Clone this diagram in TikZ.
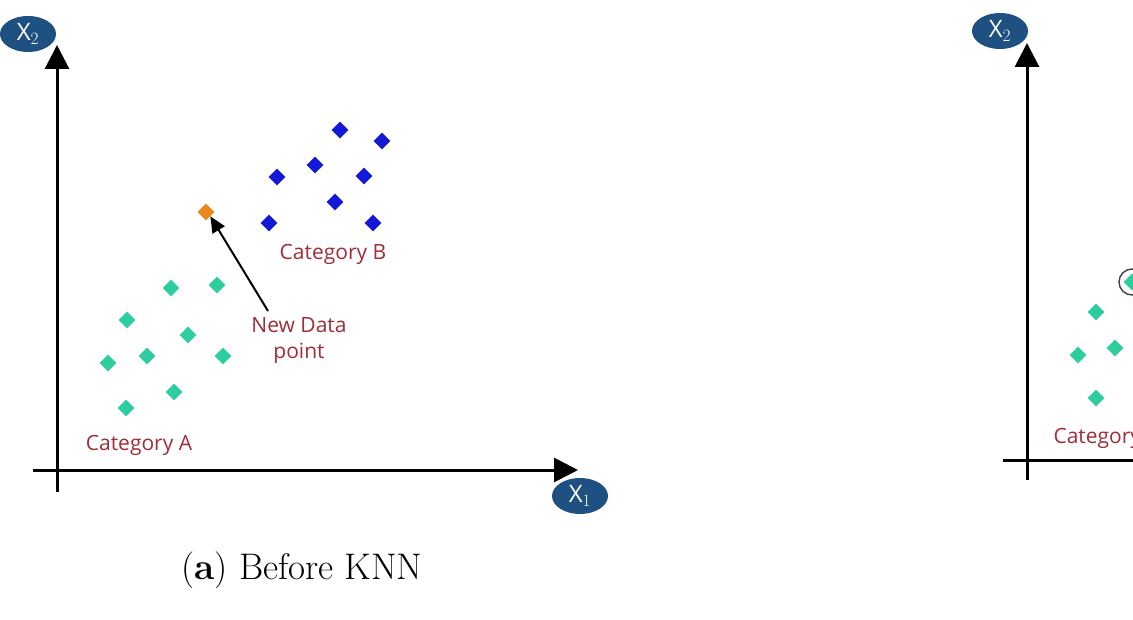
\documentclass[tikz,border=0pt]{standalone}
\usepackage{fontspec}
\newfontfamily\lblfont{Open Sans}
\usetikzlibrary{arrows.meta,shapes.geometric}
\definecolor{teal1}{RGB}{45,205,160}
\definecolor{blue1}{RGB}{20,25,215}
\definecolor{orng}{RGB}{235,135,25}
\definecolor{lblred}{RGB}{160,45,55}
\definecolor{axblue}{RGB}{30,80,130}
\begin{document}
\begin{tikzpicture}[x=1pt,y=-1pt,
  dia/.style={diamond,minimum width=17pt,minimum height=17pt,inner sep=0pt,fill=#1},
  ax/.style={line width=3pt,-{Triangle[length=24pt,width=24pt]}},
  axlbl/.style={ellipse,fill=axblue,text=white,minimum width=56pt,minimum height=36pt,inner sep=0pt,font=\lblfont\fontsize{24}{24}\selectfont},
  lbl/.style={text=lblred,font=\lblfont\fontsize{21}{26}\selectfont,align=center}]
\useasboundingbox (0,0) rectangle (1133,620);
\clip (0,0) rectangle (1133,620);
% left panel
\coordinate (o1) at (57,492);
\coordinate (yt1) at (57,45);
\coordinate (xs1) at (33,470);
\coordinate (xt1) at (578,470);
\draw[ax] (o1) -- (yt1);
\draw[ax] (xs1) -- (xt1);
\node[axlbl] (x2a) at (28,34) {X$_2$};
\node[axlbl] (x1a) at (580,496) {X$_1$};
\foreach \p [count=\i] in {(127,320),(171,288),(217,285),(108,363),(147,356),(188,335),(223,356),(126,408),(174,392)}
  \node[dia=teal1] (a\i) at \p {};
\foreach \p [count=\i] in {(340,130),(382,141),(277,177),(315,165),(364,176),(335,202),(269,223),(373,223)}
  \node[dia=blue1] (b\i) at \p {};
\node[dia=orng] (new) at (206,212) {};
\node[lbl] (catB) at (333,254) {Category B};
\node[lbl] (ndp) at (299,341) {New Data\\point};
\node[lbl] (catA) at (139,445) {Category A};
\coordinate (as) at (268,311);
\draw[line width=2pt,-{Triangle[length=16pt,width=14pt]}] (as) -- (new.south east);
\node[font=\fontsize{37}{37}\selectfont] (cap) at (302,570) {(\textbf{a}) Before KNN};
% right panel
\coordinate (o2) at (1027,480);
\coordinate (yt2) at (1027,43);
\coordinate (xs2) at (1003,460);
\coordinate (xt2) at (1300,460);
\draw[ax] (o2) -- (yt2);
\draw[line width=3pt] (xs2) -- (xt2);
\node[axlbl] (x2b) at (1000,31) {X$_2$};
\foreach \p [count=\i] in {(1096,312),(1078,355),(1115,348),(1096,398),(1132,282)}
  \node[dia=teal1] (c\i) at \p {};
\draw[line width=1.4pt,black!75] (1132,282) circle (13);
\node[lbl,anchor=west] (catA2) at (1050,438) {Category A};
\end{tikzpicture}
\end{document}
